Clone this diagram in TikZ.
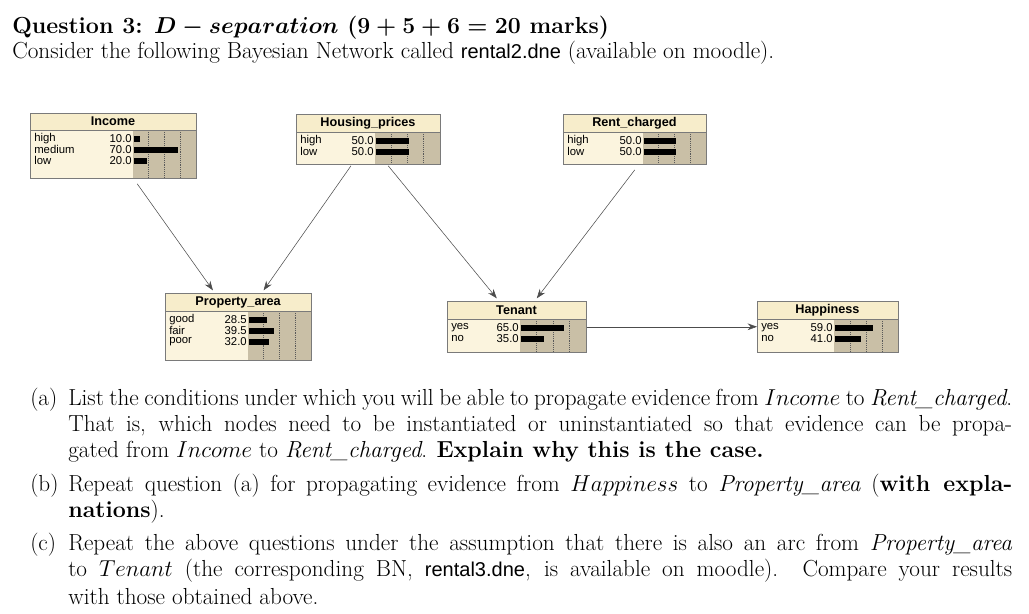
\documentclass[tikz,border=0pt]{standalone}
\usepackage{fontspec}
\newfontfamily\bnsf{Liberation Sans}
\usetikzlibrary{arrows.meta}
\definecolor{titlec}{HTML}{F7EDCB}
\definecolor{labc}{HTML}{FBF4DE}
\definecolor{barc}{HTML}{C9BFA6}
\definecolor{bordc}{HTML}{7A7A7A}
\newcommand\bn[9]{%
 \fill[titlec] (#2,#3) rectangle ++(#4,#5);
 \node[font=\bnsf\bfseries\fontsize{9.5}{10}\selectfont] at ({#2+#4/2},{#3+#5/2}) {#8};
 \fill[labc] (#2,#3+#5) rectangle ++(#7,#6);
 \fill[barc] (#2+#7,#3+#5) rectangle (#2+#4,#3+#5+#6);
 \foreach \k in {1,2,3}{\draw[densely dotted,gray!70!black] ({#2+#7+\k*(#4-#7)/4},#3+#5) -- ++(0,#6);}
 \draw[bordc] (#2,#3+#5) -- ++(#4,0);
 \node[draw=bordc,inner sep=0,minimum width=#4*0.75pt,minimum height=(#5+#6)*0.75pt,anchor=north west] (#1) at (#2,#3) {};
 \foreach \s/\v [count=\i] in {#9}{
   \node[font=\bnsf\fontsize{8.5}{9}\selectfont,anchor=west,inner sep=0] at (#2+4,{#3+#5+3+(\i-0.5)*11}) {\s};
   \node[font=\bnsf\fontsize{8.5}{9}\selectfont,anchor=east,inner sep=0] at (#2+#7-1,{#3+#5+3+(\i-0.5)*11}) {\v};
   \fill[black] (#2+#7+1,{#3+#5+3+(\i-0.5)*11-3}) rectangle ++({\v/100*(#4-#7)},6);
 }}
\newcommand\fn[1]{{\bnsf\fontsize{15}{19}\selectfont #1}}
\begin{document}
\begin{tikzpicture}[x=0.75pt,y=-0.75pt,arr/.style={-{Stealth[length=7pt,width=5pt]},gray!60!black,thin},
  txt/.style={anchor=west,inner sep=0,font=\fontsize{17.4}{19}\selectfont,text width=944*0.75pt,align=justify},
  jl/.style={txt,execute at begin node={\parfillskip=0pt}},
  lab/.style={anchor=west,inner sep=0,font=\fontsize{17.4}{19}\selectfont}]
\useasboundingbox (0,0) rectangle (1029,614);
\fill[white] (0,0) rectangle (1029,614);
\bn{inc}{30}{113}{166}{17}{48}{103}{Income}{high/10.0,medium/70.0,low/20.0}
\bn{hou}{296}{114}{144}{18}{32}{79}{Housing\_prices}{high/50.0,low/50.0}
\bn{ren}{563}{114}{143}{18}{32}{80}{Rent\_charged}{high/50.0,low/50.0}
\bn{pro}{165}{293}{146}{18}{49}{83}{Property\_area}{good/28.5,fair/39.5,poor/32.0}
\bn{ten}{447}{301}{139}{18}{33}{73}{Tenant}{yes/65.0,no/35.0}
\bn{hap}{757}{301}{141}{18}{33}{77}{Happiness}{yes/59.0,no/41.0}
\draw[arr] ([xshift=18pt,yshift=-4pt]inc.south) -- ([xshift=-19pt,yshift=2pt]pro.north);
\draw[arr] ([xshift=-13pt,yshift=-1pt]hou.south) -- ([xshift=19pt,yshift=2pt]pro.north);
\draw[arr] ([xshift=15pt,yshift=-1pt]hou.south) -- ([xshift=-15pt,yshift=2pt]ten.north);
\draw[arr] ([yshift=-4pt]ren.south) -- ([xshift=15pt,yshift=2pt]ten.north);
\draw[arr] (ten.east) -- (hap.west);
\node[lab] (h1) at (12,28) {\textbf{\boldmath Question 3: $D-separation$ $(9+5+6=20$ marks)}};
\node[lab] (h2) at (12,53) {Consider the following Bayesian Network called \fn{rental2.dne} (available on moodle).};
\node[lab] (la) at (30,400) {(a)};
\node[lab] (lb) at (30,486) {(b)};
\node[lab] (lc) at (30,545) {(c)};
\node[jl] (a1) at (68,400) {List the conditions under which you will be able to propagate evidence from $Income$ to \textit{Rent\_charged}.};
\node[jl] (a2) at (68,426) {That is, which nodes need to be instantiated or uninstantiated so that evidence can be propa-};
\node[txt] (a3) at (68,452) {gated from $Income$ to \textit{Rent\_charged}. \textbf{Explain why this is the case.}};
\node[jl] (b1) at (68,486) {Repeat question (a) for propagating evidence from $Happiness$ to \textit{Property\_area} (\textbf{with expla-}};
\node[txt] (b2) at (68,512) {\textbf{nations}).};
\node[jl] (c1) at (68,545) {Repeat the above questions under the assumption that there is also an arc from \textit{Property\_area}};
\node[jl] (c2) at (68,571) {to $Tenant$ (the corresponding BN, \fn{rental3.dne}, is available on moodle). Compare your results};
\node[txt] (c3) at (68,597) {with those obtained above.};
\end{tikzpicture}
\end{document}
